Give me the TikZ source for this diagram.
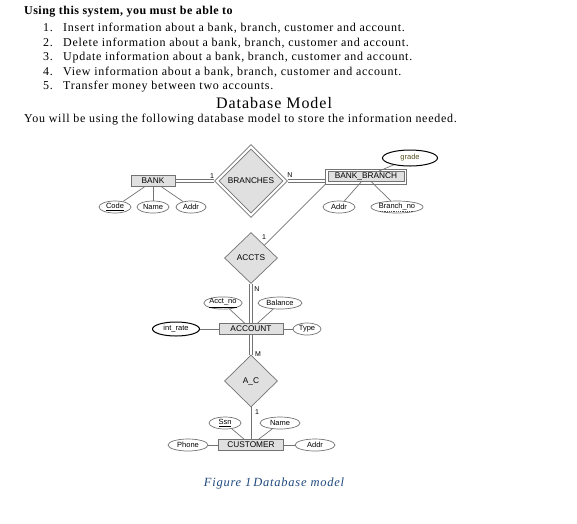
\documentclass[tikz,border=0pt]{standalone}
\usepackage{fontspec}
\setmainfont{Liberation Serif}[LetterSpace=6]
\newfontfamily\headfont{Liberation Serif}[LetterSpace=4]
\newfontfamily\ersf{Liberation Sans}
\usepackage{xcolor}
\usepackage{tikz}
\usetikzlibrary{positioning,shapes.geometric,calc}

\definecolor{capblue}{RGB}{31,73,125}
\definecolor{gradetxt}{RGB}{85,80,30}

\begin{document}
\begin{tikzpicture}[x=1pt,y=-1pt,
  every node/.style={inner sep=0pt},
  txt/.style   ={anchor=west,font=\fontsize{12}{14}\selectfont},
  entity/.style={rectangle,draw=black!55,fill=black!12,line width=0.7pt,
                 font=\ersf\fontsize{8.3}{9}\selectfont,minimum height=11pt},
  rel/.style   ={diamond,draw=black!55,fill=black!12,line width=0.7pt,
                 font=\ersf\fontsize{8.3}{9}\selectfont},
  attr/.style  ={ellipse,draw=black!55,fill=white,line width=0.7pt,
                 font=\ersf\fontsize{7.5}{8}\selectfont,minimum height=12pt},
  card/.style  ={font=\ersf\fontsize{7}{8}\selectfont},
  ln/.style    ={black!55,line width=0.7pt},
]
\useasboundingbox (0,0) rectangle (577,523);

% requirements text
\node[txt,font=\headfont\bfseries\fontsize{12}{14}\selectfont] at (24,12) (head)
  {Using this system, you must be able to};
\node[txt] at (43,28) (req1) {\makebox[20pt][l]{1.}Insert information about a bank, branch, customer and account.};
\node[txt] at (43,43) (req2) {\makebox[20pt][l]{2.}Delete information about a bank, branch, customer and account.};
\node[txt] at (43,58) (req3) {\makebox[20pt][l]{3.}Update information about a bank, branch, customer and account.};
\node[txt] at (43,72) (req4) {\makebox[20pt][l]{4.}View information about a bank, branch, customer and account.};
\node[txt] at (43,87) (req5) {\makebox[20pt][l]{5.}Transfer money between two accounts.};
\node[font=\fontsize{16}{18}\selectfont] at (274,103) (title) {Database Model};
\node[txt] at (24,120) (intro) {You will be using the following database model to store the information needed.};

% entities
\node[entity,minimum width=44pt] at (153,181) (bank) {BANK};
\node[entity,minimum width=76pt,minimum height=10pt] at (366,176.5) (bbranch) {BANK\_BRANCH};
\draw[ln] ($(bbranch.south west)+(-2,2)$) rectangle ($(bbranch.north east)+(2,-2)$);
\node[entity,minimum width=64pt] at (251,329) (account) {ACCOUNT};
\node[entity,minimum width=65pt] at (251,445) (customer) {CUSTOMER};

% relationships
\node[rel,minimum width=73pt,minimum height=73pt,fill=white] at (251,181) (branchout) {};
\node[rel,minimum width=64pt,minimum height=64pt] at (251,181) (branches) {BRANCHES};
\node[rel,minimum width=53pt,minimum height=51pt] at (251,258) (accts) {ACCTS};
\node[rel,minimum width=53pt,minimum height=52pt] at (251,381) (ac) {A\_C};

% attributes
\node[attr,minimum width=32pt] at (115,207) (bcode) {\underline{Code}};
\node[attr,minimum width=32pt] at (153,207) (bname) {Name};
\node[attr,minimum width=30pt] at (191,207) (baddr) {Addr};
\node[attr,minimum width=55pt,minimum height=16pt,draw=black,line width=1pt,text=gradetxt]
  at (410,158) (grade) {grade};
\node[attr,minimum width=32pt] at (339,207) (braddr) {Addr};
\node[attr,minimum width=52pt] at (397,207) (brno) {Branch\_no};
\draw[black!70,dash pattern=on 1pt off 0.8pt,line width=0.4pt]
  ($(brno.center)+(-17,3.8)$) -- ($(brno.center)+(17,3.8)$);
\node[attr,minimum width=36pt] at (223,303) (acctno) {\underline{Acct\_no}};
\node[attr,minimum width=44pt] at (280,303) (balance) {Balance};
\node[attr,minimum width=47pt,minimum height=14pt,draw=black,line width=1pt] at (176,329) (intrate) {int\_rate};
\node[attr,minimum width=28pt] at (307,329) (type) {Type};
\node[attr,minimum width=32pt] at (225,423) (ssn) {\underline{Ssn}};
\node[attr,minimum width=40pt] at (280,423) (cname) {Name};
\node[attr,minimum width=40pt] at (188,445) (phone) {Phone};
\node[attr,minimum width=40pt] at (315,445) (caddr) {Addr};

% cardinalities
\node[card] at (212,176) (c1) {1};
\node[card] at (290,175) (c2) {N};
\node[card] at (264,237) (c3) {1};
\node[card] at (257,289) (c4) {N};
\node[card] at (258,354) (c5) {M};
\node[card] at (257,412) (c6) {1};

% total participation: two parallel lines
\draw[ln] ([yshift=-1.2pt]bank.east) -- ([yshift=-1.2pt]branchout.west);
\draw[ln] ([yshift=1.2pt]bank.east)  -- ([yshift=1.2pt]branchout.west);
\draw[ln] ([yshift=-1.2pt]branchout.east) -- ([xshift=-2pt,yshift=-1.2pt]bbranch.west |- branchout.east);
\draw[ln] ([yshift=1.2pt]branchout.east)  -- ([xshift=-2pt,yshift=1.2pt]bbranch.west |- branchout.east);
\draw[ln] ([xshift=-1.2pt]accts.south) -- ([xshift=-1.2pt]account.north);
\draw[ln] ([xshift=1.2pt]accts.south)  -- ([xshift=1.2pt]account.north);
\draw[ln] ([xshift=-1.2pt]account.south) -- ([xshift=-1.2pt]ac.north);
\draw[ln] ([xshift=1.2pt]account.south)  -- ([xshift=1.2pt]ac.north);

% single connectors
\draw[ln] ($(bbranch.south west)+(-2,2)$) -- (accts.north east);
\draw[ln] (ac.south) -- (customer.north);
\draw[ln] (bcode) -- (bank);
\draw[ln] (bname) -- (bank);
\draw[ln] (baddr) -- (bank);
\draw[ln] (grade) -- (bbranch);
\draw[ln] (braddr) -- (bbranch);
\draw[ln] (brno) -- (bbranch);
\draw[ln] (acctno) -- (account);
\draw[ln] (balance) -- (account);
\draw[ln] (intrate.east) -- (account.west);
\draw[ln] (account.east) -- (type.west);
\draw[ln] (ssn) -- (customer);
\draw[ln] (cname) -- (customer);
\draw[ln] (phone.east) -- (customer.west);
\draw[ln] (customer.east) -- (caddr.west);

% caption
\node[font=\itshape\fontsize{12.5}{15}\selectfont,text=capblue] at (274,483) (caption)
  {Figure 1\,Database model};
\end{tikzpicture}
\end{document}
